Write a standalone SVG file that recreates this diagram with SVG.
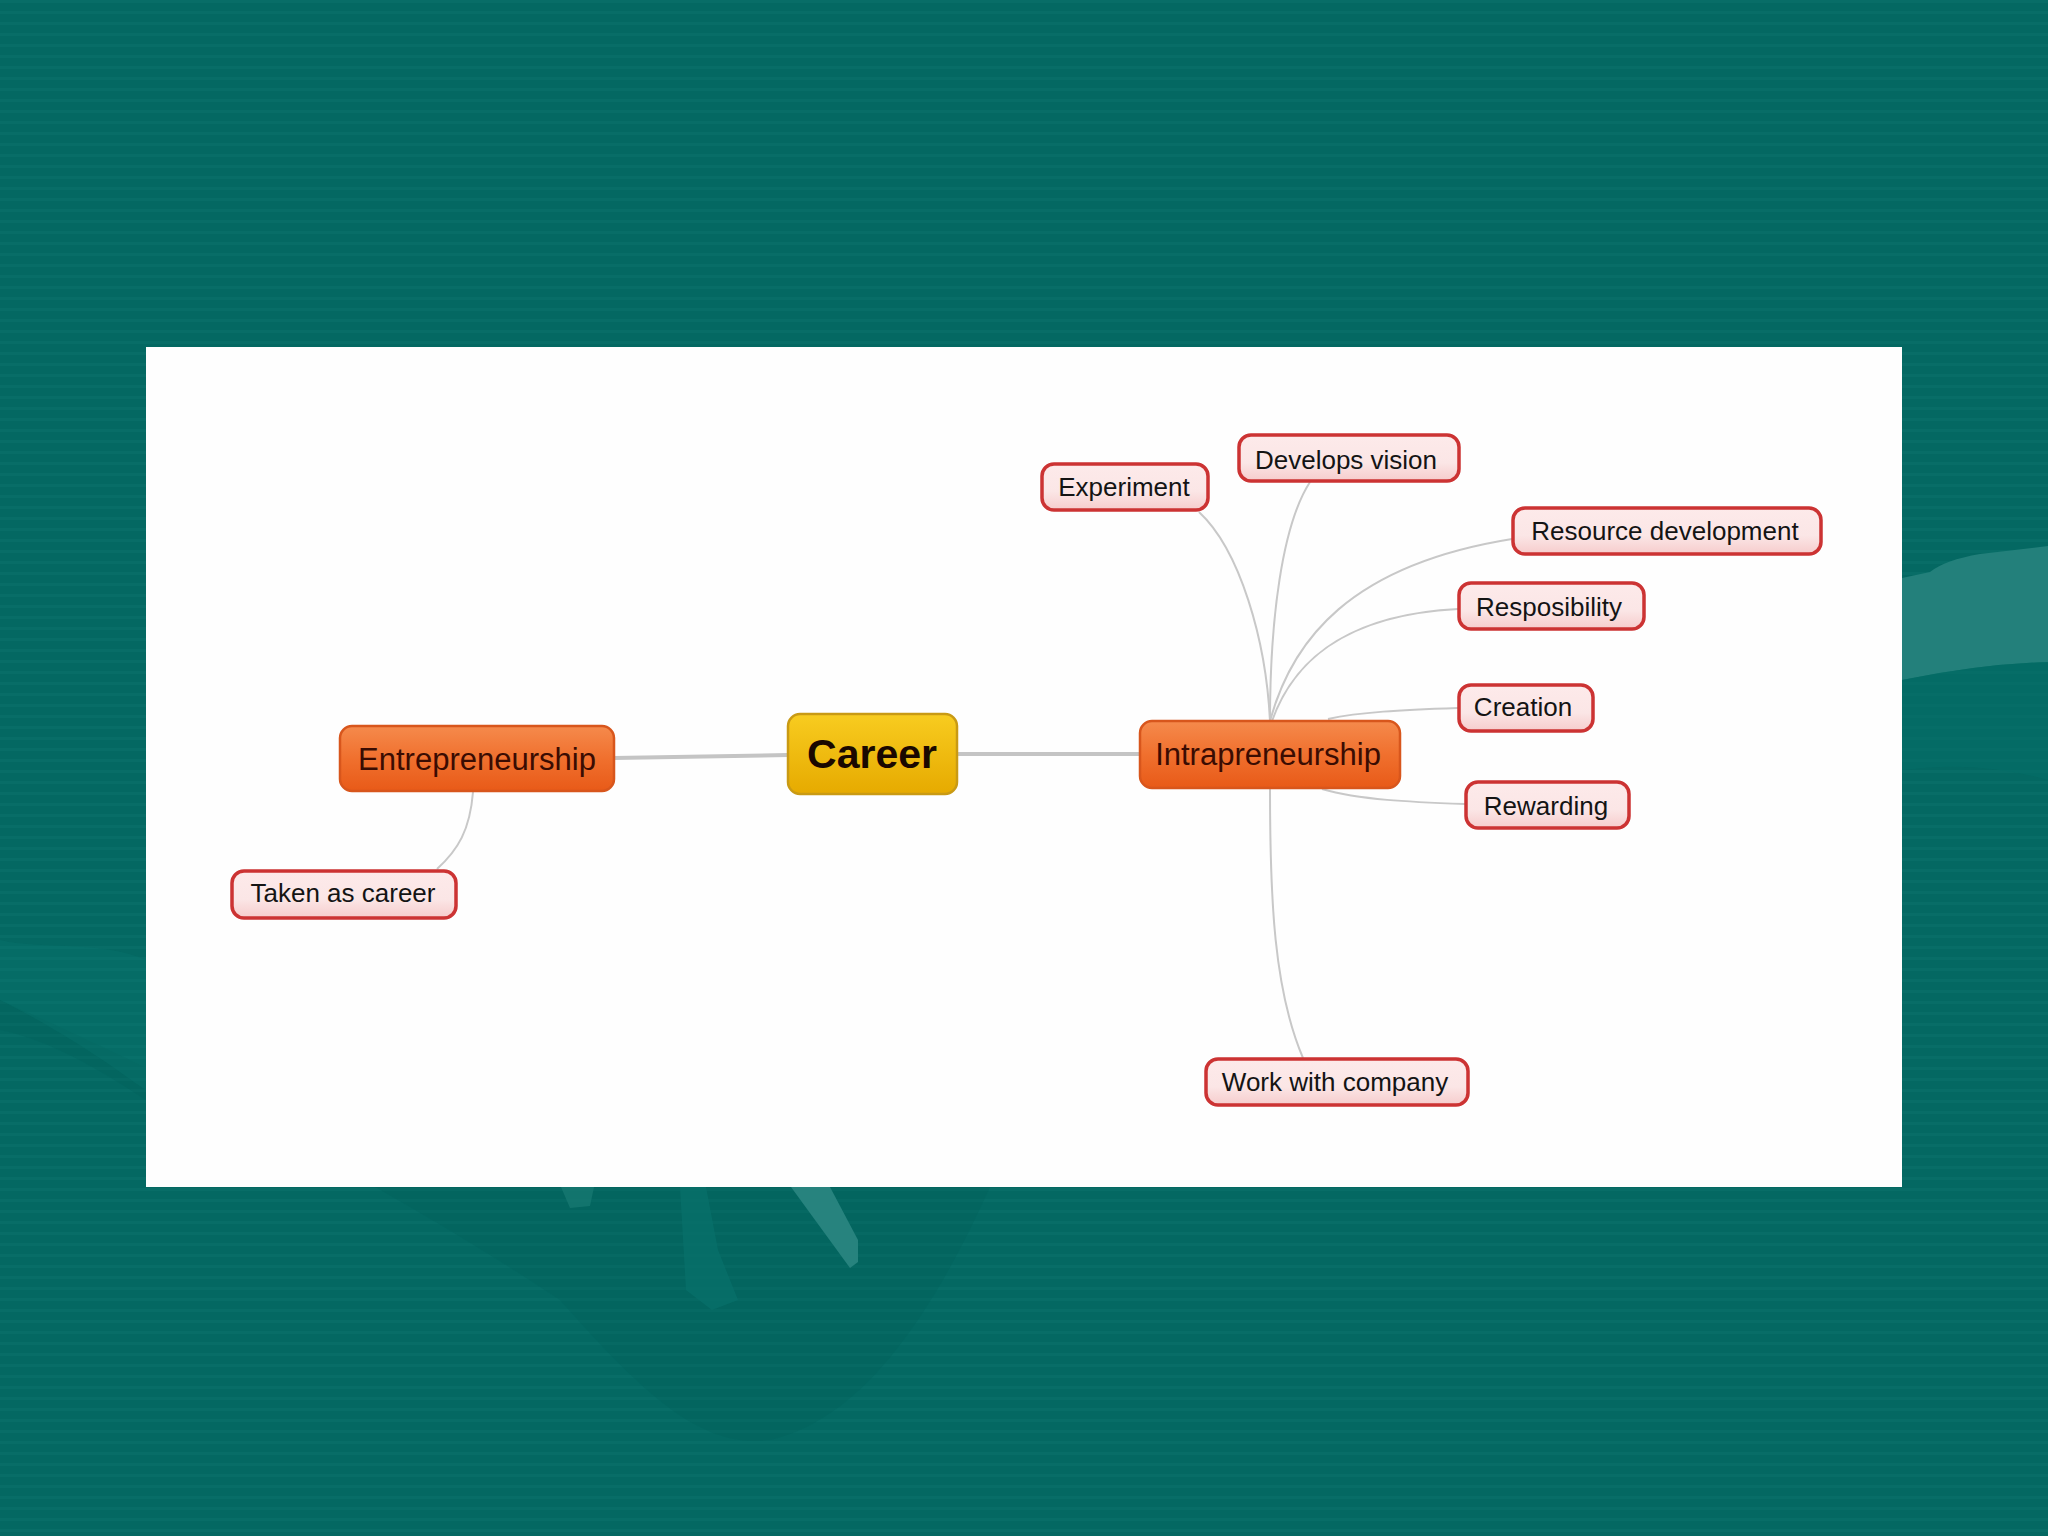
<svg xmlns="http://www.w3.org/2000/svg" width="2048" height="1536" viewBox="0 0 2048 1536">
<defs>
<pattern id="stripes" width="40" height="11" patternUnits="userSpaceOnUse">
<rect width="40" height="11" fill="#046862"/>
<rect y="0" width="40" height="3" fill="#086d67"/>
</pattern>
<linearGradient id="orange" x1="0" y1="0" x2="0" y2="1">
<stop offset="0" stop-color="#f58a4c"/>
<stop offset="0.5" stop-color="#f0702e"/>
<stop offset="1" stop-color="#e85a18"/>
</linearGradient>
<linearGradient id="gold" x1="0" y1="0" x2="0" y2="1">
<stop offset="0" stop-color="#f8cc20"/>
<stop offset="1" stop-color="#e6aa00"/>
</linearGradient>
<linearGradient id="pink" x1="0" y1="0" x2="0" y2="1">
<stop offset="0" stop-color="#fdeaea"/>
<stop offset="0.6" stop-color="#fbe6e6"/>
<stop offset="1" stop-color="#f6cccc"/>
</linearGradient>
<style>
.main{fill:url(#orange);stroke:#d8561c;stroke-width:2.5}
.root{fill:url(#gold);stroke:#c99a14;stroke-width:2.5}
.leaf{fill:url(#pink);stroke:#cc3333;stroke-width:3.5}
.t{font-family:"Liberation Sans",Arial,sans-serif;text-anchor:middle}
.tm{font-size:31px;fill:#3a0c02}
.tr{font-size:41px;font-weight:bold;fill:#1a0800}
.tl{font-size:26px;fill:#141414}
.link{fill:none;stroke:#c4c4c4;stroke-width:4}
.sub{fill:none;stroke:#c8c8c8;stroke-width:2}
</style>
</defs>

<g id="background">
<rect width="2048" height="1536" fill="url(#stripes)"/>
<path d="M0,1000 C180,1080 380,1180 560,1300 C640,1390 700,1450 770,1440 C860,1420 930,1320 990,1187 L146,1187 L146,1100 C100,1070 50,1040 0,1030 Z" fill="#02605b" opacity="0.35"/>
<path d="M561,1187 L594,1187 L590,1206 L570,1208 Z" fill="#1a7a74" opacity="0.7"/>
<path d="M680,1187 L706,1187 L718,1250 L738,1300 L712,1310 L686,1290 Z" fill="#08716b" opacity="0.7"/>
<path d="M791,1187 L830,1187 L858,1240 L858,1262 L850,1268 Z" fill="#27837e"/>
<path d="M1902,578 L1930,572 Q1945,560 1980,554 L2048,546 L2048,662 Q1980,664 1902,680 Z" fill="#23807b"/>
<path d="M1902,680 Q1980,664 2048,662 L2048,780 Q1980,760 1902,770 Z" fill="#056e68" opacity="0.6"/>
<path d="M0,1000 C80,1040 130,1080 146,1090 L146,960 C100,940 40,950 0,940 Z" fill="#0a7670" opacity="0.3"/>
</g>

<rect id="panel" x="146" y="347" width="1756" height="840" fill="#fefefe"/>

<g id="connectors">
<path class="link" d="M614,758 L788,755"/>
<path class="link" d="M957,754 L1140,754"/>
<path class="sub" d="M473,792 C470,830 458,850 437,869"/>
<path class="sub" d="M1270,721 C1266,640 1240,550 1199,512"/>
<path class="sub" d="M1270,721 C1270,620 1282,525 1310,482"/>
<path class="sub" d="M1270,721 C1292,640 1350,565 1512,539"/>
<path class="sub" d="M1272,721 C1292,665 1340,615 1458,609"/>
<path class="sub" d="M1328,719 C1360,712 1400,710 1458,708"/>
<path class="sub" d="M1322,789 C1360,800 1410,802 1465,804"/>
<path class="sub" d="M1270,789 C1270,900 1274,990 1303,1058"/>
</g>

<g id="node-career">
<rect class="root" x="788" y="714" width="169" height="80" rx="12"/>
<text class="t tr" x="872" y="768">Career</text>
</g>
<g id="node-entrepreneurship">
<rect class="main" x="340" y="726" width="274" height="65" rx="12"/>
<text class="t tm" x="477" y="770">Entrepreneurship</text>
</g>
<g id="node-intrapreneurship">
<rect class="main" x="1140" y="721" width="260" height="67" rx="12"/>
<text class="t tm" x="1268" y="765">Intrapreneurship</text>
</g>
<g id="node-taken">
<rect class="leaf" x="232" y="871" width="224" height="47" rx="12"/>
<text class="t tl" x="343" y="902">Taken as career</text>
</g>
<g id="node-experiment">
<rect class="leaf" x="1042" y="464" width="166" height="46" rx="12"/>
<text class="t tl" x="1124" y="496">Experiment</text>
</g>
<g id="node-vision">
<rect class="leaf" x="1239" y="435" width="220" height="46" rx="12"/>
<text class="t tl" x="1346" y="469">Develops vision</text>
</g>
<g id="node-resource">
<rect class="leaf" x="1513" y="508" width="308" height="46" rx="12"/>
<text class="t tl" x="1665" y="540">Resource development</text>
</g>
<g id="node-responsibility">
<rect class="leaf" x="1459" y="583" width="185" height="46" rx="12"/>
<text class="t tl" x="1549" y="616">Resposibility</text>
</g>
<g id="node-creation">
<rect class="leaf" x="1459" y="685" width="134" height="46" rx="12"/>
<text class="t tl" x="1523" y="716">Creation</text>
</g>
<g id="node-rewarding">
<rect class="leaf" x="1466" y="782" width="163" height="46" rx="12"/>
<text class="t tl" x="1546" y="815">Rewarding</text>
</g>
<g id="node-work">
<rect class="leaf" x="1206" y="1059" width="262" height="46" rx="12"/>
<text class="t tl" x="1335" y="1091">Work with company</text>
</g>
</svg>
